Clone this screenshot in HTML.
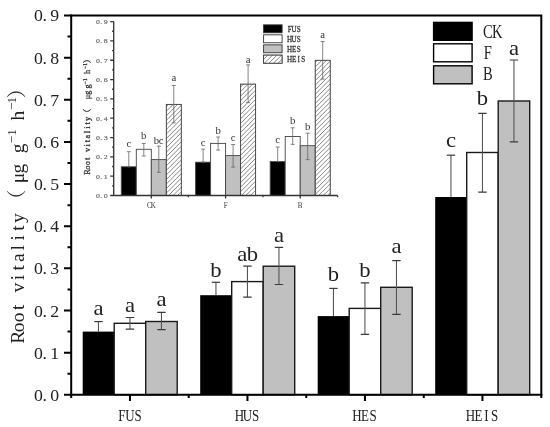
<!DOCTYPE html>
<html><head><meta charset="utf-8"><title>Root vitality</title>
<style>html,body{margin:0;padding:0;background:#fff;width:550px;height:427px;overflow:hidden}svg{display:block}</style>
</head><body>
<svg width="550" height="427" viewBox="0 0 550 427" font-family="&quot;Liberation Serif&quot;,&quot;Noto Serif CJK SC&quot;,serif"><rect x="0" y="0" width="550" height="427" fill="#fff"/>
<rect x="82.7" y="331.6" width="31.5" height="63.2" fill="#000"/>
<rect x="114.2" y="323.3" width="31.5" height="71.5" fill="#fff" stroke="#1a1a1a" stroke-width="1.4"/>
<rect x="145.7" y="321.5" width="31.5" height="73.3" fill="#c0c0c0" stroke="#1a1a1a" stroke-width="1.4"/>
<rect x="200.2" y="295.2" width="31.5" height="99.6" fill="#000"/>
<rect x="231.7" y="281.6" width="31.5" height="113.2" fill="#fff" stroke="#1a1a1a" stroke-width="1.4"/>
<rect x="263.2" y="266.2" width="31.5" height="128.6" fill="#c0c0c0" stroke="#1a1a1a" stroke-width="1.4"/>
<rect x="317.7" y="316.1" width="31.5" height="78.7" fill="#000"/>
<rect x="349.2" y="308.4" width="31.5" height="86.4" fill="#fff" stroke="#1a1a1a" stroke-width="1.4"/>
<rect x="380.7" y="287.3" width="31.5" height="107.5" fill="#c0c0c0" stroke="#1a1a1a" stroke-width="1.4"/>
<rect x="435.2" y="197" width="31.5" height="197.8" fill="#000"/>
<rect x="466.7" y="152.5" width="31.5" height="242.3" fill="#fff" stroke="#1a1a1a" stroke-width="1.4"/>
<rect x="498.2" y="101" width="31.5" height="293.8" fill="#c0c0c0" stroke="#1a1a1a" stroke-width="1.4"/>
<path d="M98.45 321.6V331.6" stroke="#505050" stroke-width="1.05" fill="none"/>
<path d="M94.25 321.6H102.65" stroke="#3a3a3a" stroke-width="1.2" fill="none"/>
<text x="86.5" y="315.5" font-size="21" fill="#222" transform="scale(1.08 1)">a</text>
<path d="M129.95 317.5V329.1" stroke="#505050" stroke-width="1.05" fill="none"/>
<path d="M125.75 317.5H134.15M125.75 329.1H134.15" stroke="#3a3a3a" stroke-width="1.2" fill="none"/>
<text x="115.66" y="311.8" font-size="21" fill="#222" transform="scale(1.08 1)">a</text>
<path d="M161.45 312.4V329.6" stroke="#505050" stroke-width="1.05" fill="none"/>
<path d="M157.25 312.4H165.65M157.25 329.6H165.65" stroke="#3a3a3a" stroke-width="1.2" fill="none"/>
<text x="144.83" y="306.2" font-size="21" fill="#222" transform="scale(1.08 1)">a</text>
<path d="M215.95 282.3V295.2" stroke="#505050" stroke-width="1.05" fill="none"/>
<path d="M211.75 282.3H220.15" stroke="#3a3a3a" stroke-width="1.2" fill="none"/>
<text x="194.7" y="276.9" font-size="21" fill="#222" transform="scale(1.08 1)">b</text>
<path d="M247.45 266.2V297.2" stroke="#505050" stroke-width="1.05" fill="none"/>
<path d="M243.25 266.2H251.65M243.25 297.2H251.65" stroke="#3a3a3a" stroke-width="1.2" fill="none"/>
<text x="219.74 228.59" y="261.5" font-size="21" fill="#222" transform="scale(1.08 1)">ab</text>
<path d="M278.95 247.3V284.5" stroke="#505050" stroke-width="1.05" fill="none"/>
<path d="M274.75 247.3H283.15M274.75 284.5H283.15" stroke="#3a3a3a" stroke-width="1.2" fill="none"/>
<text x="253.63" y="242.3" font-size="21" fill="#222" transform="scale(1.08 1)">a</text>
<path d="M333.45 288.4V316.1" stroke="#505050" stroke-width="1.05" fill="none"/>
<path d="M329.25 288.4H337.65" stroke="#3a3a3a" stroke-width="1.2" fill="none"/>
<text x="303.5" y="281" font-size="21" fill="#222" transform="scale(1.08 1)">b</text>
<path d="M364.95 282.8V334.3" stroke="#505050" stroke-width="1.05" fill="none"/>
<path d="M360.75 282.8H369.15M360.75 334.3H369.15" stroke="#3a3a3a" stroke-width="1.2" fill="none"/>
<text x="332.67" y="276.6" font-size="21" fill="#222" transform="scale(1.08 1)">b</text>
<path d="M396.45 260.6V314.4" stroke="#505050" stroke-width="1.05" fill="none"/>
<path d="M392.25 260.6H400.65M392.25 314.4H400.65" stroke="#3a3a3a" stroke-width="1.2" fill="none"/>
<text x="362.42" y="253.4" font-size="21" fill="#222" transform="scale(1.08 1)">a</text>
<path d="M450.95 155.2V197" stroke="#505050" stroke-width="1.05" fill="none"/>
<path d="M446.75 155.2H455.15" stroke="#3a3a3a" stroke-width="1.2" fill="none"/>
<text x="412.89" y="147.4" font-size="21" fill="#222" transform="scale(1.08 1)">c</text>
<path d="M482.45 113.3V192.2" stroke="#505050" stroke-width="1.05" fill="none"/>
<path d="M478.25 113.3H486.65M478.25 192.2H486.65" stroke="#3a3a3a" stroke-width="1.2" fill="none"/>
<text x="441.46" y="105.2" font-size="21" fill="#222" transform="scale(1.08 1)">b</text>
<path d="M513.95 60V141.8" stroke="#505050" stroke-width="1.05" fill="none"/>
<path d="M509.75 60H518.15M509.75 141.8H518.15" stroke="#3a3a3a" stroke-width="1.2" fill="none"/>
<text x="471.22" y="55.4" font-size="21" fill="#222" transform="scale(1.08 1)">a</text>
<path d="M71.2 15.5H541.3V394.8" stroke="#000" stroke-width="2" fill="none"/>
<path d="M71.2 14.5V394.8H542.3" stroke="#000" stroke-width="2" fill="none"/>
<path d="M64 394.8H71.2M64 352.66H71.2M64 310.51H71.2M64 268.37H71.2M64 226.22H71.2M64 184.08H71.2M64 141.93H71.2M64 99.79H71.2M64 57.64H71.2M64 15.5H71.2M67.5 373.73H71.2M67.5 331.58H71.2M67.5 289.44H71.2M67.5 247.29H71.2M67.5 205.15H71.2M67.5 163.01H71.2M67.5 120.86H71.2M67.5 78.72H71.2M67.5 36.57H71.2M129.95 394.8V401M247.45 394.8V401M364.95 394.8V401M482.45 394.8V401M71.2 394.8V398M188.72 394.8V398M306.25 394.8V398M423.77 394.8V398M541.3 394.8V398" stroke="#000" stroke-width="2" fill="none"/>
<text x="32.44 40.46 47.87" y="400.8" font-size="16.9" fill="#222" transform="scale(1.05 1)">0.0</text>
<text x="32.44 40.46 47.87" y="358.66" font-size="16.9" fill="#222" transform="scale(1.05 1)">0.1</text>
<text x="32.44 40.46 47.87" y="316.51" font-size="16.9" fill="#222" transform="scale(1.05 1)">0.2</text>
<text x="32.44 40.46 47.87" y="274.37" font-size="16.9" fill="#222" transform="scale(1.05 1)">0.3</text>
<text x="32.44 40.46 47.87" y="232.22" font-size="16.9" fill="#222" transform="scale(1.05 1)">0.4</text>
<text x="32.44 40.46 47.87" y="190.08" font-size="16.9" fill="#222" transform="scale(1.05 1)">0.5</text>
<text x="32.44 40.46 47.87" y="147.93" font-size="16.9" fill="#222" transform="scale(1.05 1)">0.6</text>
<text x="32.44 40.46 47.87" y="105.79" font-size="16.9" fill="#222" transform="scale(1.05 1)">0.7</text>
<text x="32.44 40.46 47.87" y="63.64" font-size="16.9" fill="#222" transform="scale(1.05 1)">0.8</text>
<text x="32.44 40.46 47.87" y="21.5" font-size="16.9" fill="#222" transform="scale(1.05 1)">0.9</text>
<text x="147.87 156.59 168" y="420.6" font-size="16.2" fill="#222" transform="scale(0.8 1)">FUS</text>
<text x="293.4 303.46 314.87" y="420.6" font-size="16.2" fill="#222" transform="scale(0.8 1)">HUS</text>
<text x="440.28 451.24 461.75" y="420.6" font-size="16.2" fill="#222" transform="scale(0.8 1)">HES</text>
<text x="582.12 593.08 605.4 613.65" y="420.6" font-size="16.2" fill="#222" transform="scale(0.8 1)">HEIS</text>
<rect x="433.6" y="22.4" width="38.5" height="17.9" fill="#000" stroke="#000" stroke-width="1.4"/>
<text x="619.18 630.85" y="37.8" font-size="18.6" fill="#222" transform="scale(0.78 1)">CK</text>
<rect x="433.6" y="43.8" width="38.5" height="18" fill="#fff" stroke="#000" stroke-width="1.4"/>
<text x="620.21" y="59.4" font-size="18.6" fill="#222" transform="scale(0.78 1)">F</text>
<rect x="433.6" y="65.8" width="38.5" height="18" fill="#c0c0c0" stroke="#000" stroke-width="1.4"/>
<text x="619.18" y="80.3" font-size="18.6" fill="#222" transform="scale(0.78 1)">B</text>
<g transform="translate(23.6 0) rotate(-90)"><text font-size="19.5" fill="#222"><tspan x="-343.7 -332.14 -322.21 -310.12 -299.92 -292.43 -280.33 -270.4 -262.09 -250.54 -240.61 -230.68 -222.91" y="0">Root vitality</tspan><tspan x="-209.35" y="0">（</tspan><tspan x="-183.33 -173.47 -160.94 -153.18" y="0">μg g</tspan><tspan x="-143.27 -135.85" y="-7.5" font-size="13">−1</tspan><tspan x="-127.44 -120.47" y="0"> h</tspan><tspan x="-110.07 -103.45" y="-7.5" font-size="13">−1</tspan><tspan x="-98.35" y="0">）</tspan></text></g>
<g stroke="#333" stroke-width="0.3">
<defs><pattern id="hatch" patternUnits="userSpaceOnUse" width="3.2" height="3.2" patternTransform="rotate(45)"><rect width="3.2" height="3.2" fill="#fff"/><line x1="0.5" y1="0" x2="0.5" y2="3.2" stroke="#6a6a6a" stroke-width="0.8"/></pattern></defs>
<rect x="121.3" y="166.8" width="15" height="28.7" fill="#000" stroke="#444" stroke-width="0.9"/>
<rect x="136.3" y="149.3" width="15" height="46.2" fill="#fff" stroke="#444" stroke-width="0.9"/>
<rect x="151.3" y="159.6" width="15" height="35.9" fill="#c0c0c0" stroke="#444" stroke-width="0.9"/>
<clipPath id="hc1"><rect x="166.3" y="104.4" width="15" height="91.1"/></clipPath><rect x="166.3" y="104.4" width="15" height="91.1" fill="#fff"/><path d="M70.95 197.5L166.05 102.4M75.5 197.5L170.6 102.4M80.05 197.5L175.15 102.4M84.6 197.5L179.7 102.4M89.15 197.5L184.25 102.4M93.7 197.5L188.8 102.4M98.25 197.5L193.35 102.4M102.8 197.5L197.9 102.4M107.35 197.5L202.45 102.4M111.9 197.5L207 102.4M116.45 197.5L211.55 102.4M121 197.5L216.1 102.4M125.55 197.5L220.65 102.4M130.1 197.5L225.2 102.4M134.65 197.5L229.75 102.4M139.2 197.5L234.3 102.4M143.75 197.5L238.85 102.4M148.3 197.5L243.4 102.4M152.85 197.5L247.95 102.4M157.4 197.5L252.5 102.4M161.95 197.5L257.05 102.4M166.5 197.5L261.6 102.4M171.05 197.5L266.15 102.4M175.6 197.5L270.7 102.4M180.15 197.5L275.25 102.4" stroke="#6a6a6a" stroke-width="0.8" fill="none" clip-path="url(#hc1)"/>
<rect x="166.3" y="104.4" width="15" height="91.1" fill="none" stroke="#444" stroke-width="0.9"/>
<rect x="195.6" y="162.2" width="15" height="33.3" fill="#000" stroke="#444" stroke-width="0.9"/>
<rect x="210.6" y="143.4" width="15" height="52.1" fill="#fff" stroke="#444" stroke-width="0.9"/>
<rect x="225.6" y="155.6" width="15" height="39.9" fill="#c0c0c0" stroke="#444" stroke-width="0.9"/>
<clipPath id="hc2"><rect x="240.6" y="84.1" width="15" height="111.4"/></clipPath><rect x="240.6" y="84.1" width="15" height="111.4" fill="#fff"/><path d="M125.55 197.5L240.95 82.1M130.1 197.5L245.5 82.1M134.65 197.5L250.05 82.1M139.2 197.5L254.6 82.1M143.75 197.5L259.15 82.1M148.3 197.5L263.7 82.1M152.85 197.5L268.25 82.1M157.4 197.5L272.8 82.1M161.95 197.5L277.35 82.1M166.5 197.5L281.9 82.1M171.05 197.5L286.45 82.1M175.6 197.5L291 82.1M180.15 197.5L295.55 82.1M184.7 197.5L300.1 82.1M189.25 197.5L304.65 82.1M193.8 197.5L309.2 82.1M198.35 197.5L313.75 82.1M202.9 197.5L318.3 82.1M207.45 197.5L322.85 82.1M212 197.5L327.4 82.1M216.55 197.5L331.95 82.1M221.1 197.5L336.5 82.1M225.65 197.5L341.05 82.1M230.2 197.5L345.6 82.1M234.75 197.5L350.15 82.1M239.3 197.5L354.7 82.1M243.85 197.5L359.25 82.1M248.4 197.5L363.8 82.1M252.95 197.5L368.35 82.1M257.5 197.5L372.9 82.1" stroke="#6a6a6a" stroke-width="0.8" fill="none" clip-path="url(#hc2)"/>
<rect x="240.6" y="84.1" width="15" height="111.4" fill="none" stroke="#444" stroke-width="0.9"/>
<rect x="270.2" y="161.6" width="15" height="33.9" fill="#000" stroke="#444" stroke-width="0.9"/>
<rect x="285.2" y="136.5" width="15" height="59" fill="#fff" stroke="#444" stroke-width="0.9"/>
<rect x="300.2" y="145.7" width="15" height="49.8" fill="#c0c0c0" stroke="#444" stroke-width="0.9"/>
<clipPath id="hc3"><rect x="315.2" y="60.3" width="15" height="135.2"/></clipPath><rect x="315.2" y="60.3" width="15" height="135.2" fill="#fff"/><path d="M175.6 197.5L314.8 58.3M180.15 197.5L319.35 58.3M184.7 197.5L323.9 58.3M189.25 197.5L328.45 58.3M193.8 197.5L333 58.3M198.35 197.5L337.55 58.3M202.9 197.5L342.1 58.3M207.45 197.5L346.65 58.3M212 197.5L351.2 58.3M216.55 197.5L355.75 58.3M221.1 197.5L360.3 58.3M225.65 197.5L364.85 58.3M230.2 197.5L369.4 58.3M234.75 197.5L373.95 58.3M239.3 197.5L378.5 58.3M243.85 197.5L383.05 58.3M248.4 197.5L387.6 58.3M252.95 197.5L392.15 58.3M257.5 197.5L396.7 58.3M262.05 197.5L401.25 58.3M266.6 197.5L405.8 58.3M271.15 197.5L410.35 58.3M275.7 197.5L414.9 58.3M280.25 197.5L419.45 58.3M284.8 197.5L424 58.3M289.35 197.5L428.55 58.3M293.9 197.5L433.1 58.3M298.45 197.5L437.65 58.3M303 197.5L442.2 58.3M307.55 197.5L446.75 58.3M312.1 197.5L451.3 58.3M316.65 197.5L455.85 58.3M321.2 197.5L460.4 58.3M325.75 197.5L464.95 58.3M330.3 197.5L469.5 58.3" stroke="#6a6a6a" stroke-width="0.8" fill="none" clip-path="url(#hc3)"/>
<rect x="315.2" y="60.3" width="15" height="135.2" fill="none" stroke="#444" stroke-width="0.9"/>
<path d="M128.8 151.7V166.8M126.8 151.7H130.8M126.8 166.8H130.8" stroke="#666" stroke-width="0.8" fill="none"/>
<text x="112.87" y="147.3" font-size="9.6" fill="#333" transform="scale(1.12 1)" stroke="none">c</text>
<path d="M143.8 143.5V156M141.8 143.5H145.8M141.8 156H145.8" stroke="#666" stroke-width="0.8" fill="none"/>
<text x="125.99" y="139.2" font-size="9.6" fill="#333" transform="scale(1.12 1)" stroke="none">b</text>
<path d="M158.8 146.1V172.3M156.8 146.1H160.8M156.8 172.3H160.8" stroke="#666" stroke-width="0.8" fill="none"/>
<text x="137.29 141.75" y="144.1" font-size="9.6" fill="#333" transform="scale(1.12 1)" stroke="none">bc</text>
<path d="M173.8 85.5V122.9M171.8 85.5H175.8M171.8 122.9H175.8" stroke="#666" stroke-width="0.8" fill="none"/>
<text x="153.05" y="81.2" font-size="9.6" fill="#333" transform="scale(1.12 1)" stroke="none">a</text>
<path d="M203.1 149.1V162.2M201.1 149.1H205.1M201.1 162.2H205.1" stroke="#666" stroke-width="0.8" fill="none"/>
<text x="179.21" y="146.1" font-size="9.6" fill="#333" transform="scale(1.12 1)" stroke="none">c</text>
<path d="M218.1 137V150.1M216.1 137H220.1M216.1 150.1H220.1" stroke="#666" stroke-width="0.8" fill="none"/>
<text x="192.33" y="133.6" font-size="9.6" fill="#333" transform="scale(1.12 1)" stroke="none">b</text>
<path d="M233.1 144.5V167.1M231.1 144.5H235.1M231.1 167.1H235.1" stroke="#666" stroke-width="0.8" fill="none"/>
<text x="205.99" y="141.3" font-size="9.6" fill="#333" transform="scale(1.12 1)" stroke="none">c</text>
<path d="M248.1 64.9V102.6M246.1 64.9H250.1M246.1 102.6H250.1" stroke="#666" stroke-width="0.8" fill="none"/>
<text x="219.39" y="62.6" font-size="9.6" fill="#333" transform="scale(1.12 1)" stroke="none">a</text>
<path d="M277.7 147V161.6M275.7 147H279.7M275.7 161.6H279.7" stroke="#666" stroke-width="0.8" fill="none"/>
<text x="245.82" y="143.5" font-size="9.6" fill="#333" transform="scale(1.12 1)" stroke="none">c</text>
<path d="M292.7 127.8V144.4M290.7 127.8H294.7M290.7 144.4H294.7" stroke="#666" stroke-width="0.8" fill="none"/>
<text x="258.94" y="123.7" font-size="9.6" fill="#333" transform="scale(1.12 1)" stroke="none">b</text>
<path d="M307.7 133.2V159.6M305.7 133.2H309.7M305.7 159.6H309.7" stroke="#666" stroke-width="0.8" fill="none"/>
<text x="272.33" y="129.8" font-size="9.6" fill="#333" transform="scale(1.12 1)" stroke="none">b</text>
<path d="M322.7 41.5V79.1M320.7 41.5H324.7M320.7 79.1H324.7" stroke="#666" stroke-width="0.8" fill="none"/>
<text x="285.99" y="38.4" font-size="9.6" fill="#333" transform="scale(1.12 1)" stroke="none">a</text>
<path d="M113.7 21.6V195.5H337.6M110.2 195.5H113.7M110.2 176.18H113.7M110.2 156.86H113.7M110.2 137.53H113.7M110.2 118.21H113.7M110.2 98.89H113.7M110.2 79.57H113.7M110.2 60.24H113.7M110.2 40.92H113.7M110.2 21.6H113.7M112.1 185.84H113.7M112.1 166.52H113.7M112.1 147.19H113.7M112.1 127.87H113.7M112.1 108.55H113.7M112.1 89.23H113.7M112.1 69.91H113.7M112.1 50.58H113.7M112.1 31.26H113.7M151.3 195.5V198.5M225.6 195.5V198.5M300.2 195.5V198.5M188.33 195.5V197.2M262.97 195.5V197.2M337.6 195.5V197.2" stroke="#333" stroke-width="1.3" fill="none"/>
<text x="79.93 83.51 86.52" y="198" font-size="6.6" fill="#555" transform="scale(1.2 1)" stroke="#777" stroke-width="0.15">0.0</text>
<text x="79.93 83.51 86.52" y="178.68" font-size="6.6" fill="#555" transform="scale(1.2 1)" stroke="#777" stroke-width="0.15">0.1</text>
<text x="79.93 83.51 86.52" y="159.36" font-size="6.6" fill="#555" transform="scale(1.2 1)" stroke="#777" stroke-width="0.15">0.2</text>
<text x="79.93 83.51 86.52" y="140.03" font-size="6.6" fill="#555" transform="scale(1.2 1)" stroke="#777" stroke-width="0.15">0.3</text>
<text x="79.93 83.51 86.52" y="120.71" font-size="6.6" fill="#555" transform="scale(1.2 1)" stroke="#777" stroke-width="0.15">0.4</text>
<text x="79.93 83.51 86.52" y="101.39" font-size="6.6" fill="#555" transform="scale(1.2 1)" stroke="#777" stroke-width="0.15">0.5</text>
<text x="79.93 83.51 86.52" y="82.07" font-size="6.6" fill="#555" transform="scale(1.2 1)" stroke="#777" stroke-width="0.15">0.6</text>
<text x="79.93 83.51 86.52" y="62.74" font-size="6.6" fill="#555" transform="scale(1.2 1)" stroke="#777" stroke-width="0.15">0.7</text>
<text x="79.93 83.51 86.52" y="43.42" font-size="6.6" fill="#555" transform="scale(1.2 1)" stroke="#777" stroke-width="0.15">0.8</text>
<text x="79.93 83.51 86.52" y="24.1" font-size="6.6" fill="#555" transform="scale(1.2 1)" stroke="#777" stroke-width="0.15">0.9</text>
<text x="183.63 188.51" y="207.7" font-size="8.8" fill="#333" transform="scale(0.8 1)" stroke="none">CK</text>
<text x="279.55" y="207.7" font-size="8.8" fill="#333" transform="scale(0.8 1)" stroke="none">F</text>
<text x="372.32" y="207.7" font-size="8.8" fill="#333" transform="scale(0.8 1)" stroke="none">B</text>
<rect x="263.6" y="24.85" width="18.5" height="7.9" fill="#000" stroke="#333" stroke-width="0.9"/>
<text x="359.59 364.47 370.84" y="32.1" font-size="8.9" fill="#333" transform="scale(0.8 1)">FUS</text>
<rect x="263.6" y="34.85" width="18.5" height="7.9" fill="#fff" stroke="#333" stroke-width="0.9"/>
<text x="358.85 364.47 370.84" y="42.1" font-size="8.9" fill="#333" transform="scale(0.8 1)">HUS</text>
<rect x="263.6" y="44.85" width="18.5" height="7.9" fill="#c0c0c0" stroke="#333" stroke-width="0.9"/>
<text x="358.85 364.97 370.84" y="51.9" font-size="8.9" fill="#333" transform="scale(0.8 1)">HES</text>
<clipPath id="hc4"><rect x="263.6" y="55.05" width="18.5" height="8.2"/></clipPath><rect x="263.6" y="55.05" width="18.5" height="8.2" fill="#fff"/><path d="M253.25 65.25L265.45 53.05M257.8 65.25L270 53.05M262.35 65.25L274.55 53.05M266.9 65.25L279.1 53.05M271.45 65.25L283.65 53.05M276 65.25L288.2 53.05M280.55 65.25L292.75 53.05" stroke="#6a6a6a" stroke-width="0.8" fill="none" clip-path="url(#hc4)"/>
<rect x="263.6" y="55.05" width="18.5" height="8.2" fill="none" stroke="#333" stroke-width="0.9"/>
<text x="358.85 364.97 371.83 376.46" y="62" font-size="8.9" fill="#333" transform="scale(0.8 1)">HEIS</text>
<g transform="translate(90.4 0) rotate(-90)"><text font-size="8.3" fill="#333"><tspan x="-174.87 -169.73 -165.29 -159.93 -155.38 -151.97 -146.61 -142.17 -138.42 -133.29 -128.85 -124.41 -120.89" y="0">Root vitality</tspan><tspan x="-116.95" y="0">（</tspan><tspan x="-99.22 -94.67 -90.54 -88.58" y="0">μg g</tspan><tspan x="-84.28 -80.9" y="-3.3" font-size="5.6">−1</tspan><tspan x="-76.54 -73.88" y="0"> h</tspan><tspan x="-68.88 -65.8" y="-3.3" font-size="5.6">−1</tspan><tspan x="-63.35" y="0">）</tspan></text></g>
</g></svg>
</body></html>
